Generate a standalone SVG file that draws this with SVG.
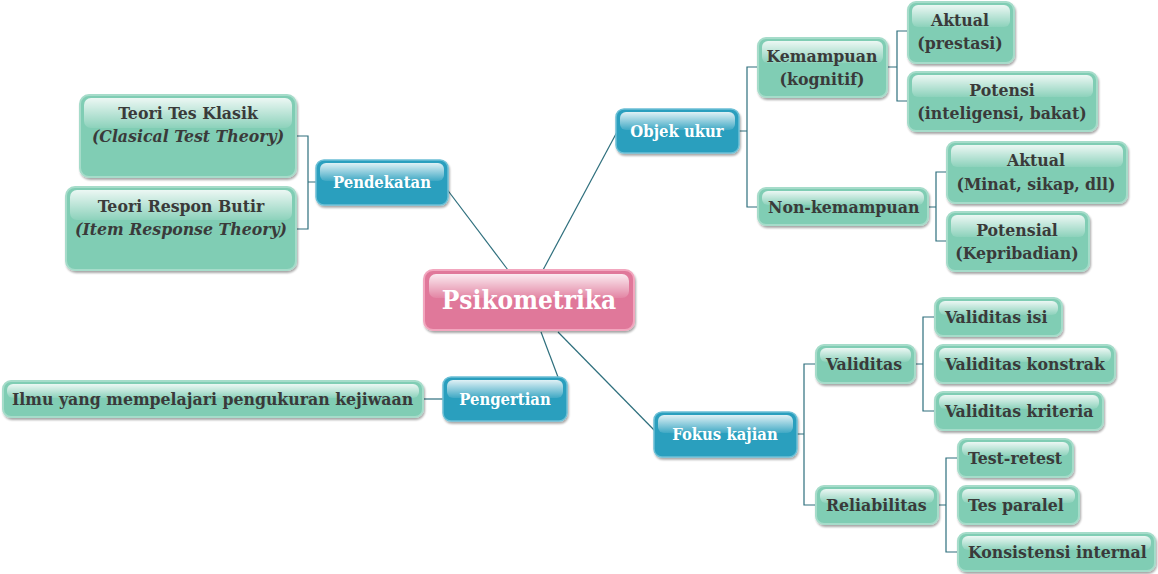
<svg xmlns="http://www.w3.org/2000/svg" width="1158" height="574" viewBox="0 0 1158 574">
<defs>
<linearGradient id="gloss" x1="0" y1="0" x2="0" y2="1">
<stop offset="0" stop-color="#ffffff" stop-opacity="0.85"/>
<stop offset="1" stop-color="#ffffff" stop-opacity="0.1"/>
</linearGradient>
<filter id="sh" x="-10%" y="-20%" width="120%" height="150%">
<feGaussianBlur in="SourceAlpha" stdDeviation="1.2"/>
<feOffset dx="1" dy="2" result="b"/>
<feComponentTransfer><feFuncA type="linear" slope="0.35"/></feComponentTransfer>
<feMerge><feMergeNode/><feMergeNode in="SourceGraphic"/></feMerge>
</filter>
</defs>
<style>
.g{fill:#80cdb4;stroke:#a6dcca;stroke-width:2;filter:url(#sh)}
.b{fill:#2b9fbe;stroke:#6cc0d6;stroke-width:1.5;filter:url(#sh)}
.p{fill:#e0789a;stroke:#f2a6be;stroke-width:2;filter:url(#sh)}
.gl{fill:url(#gloss)}
text{font-family:"DejaVu Serif Condensed","DejaVu Serif","Liberation Serif",serif;font-weight:bold;text-anchor:middle;dominant-baseline:central}
.tg{fill:#3a3a3a;font-size:17.5px}
.l{text-anchor:start}
.tb{fill:#ffffff;font-size:16.5px}
.tp{fill:#ffffff;font-size:26px}
.it{font-style:italic}
.c{fill:none;stroke:#2e6f7d;stroke-width:1.2}
</style>
<g id="connectors">
<line class="c" x1="508" y1="270" x2="446" y2="188"/>
<line class="c" x1="543" y1="270" x2="617" y2="132"/>
<line class="c" x1="541" y1="332" x2="558" y2="377"/>
<line class="c" x1="558" y1="332" x2="656" y2="432"/>
<path class="c" d="M316 182H308M296 136H308V229H296"/>
<path class="c" d="M423 399H443"/>
<path class="c" d="M739 131H747M758 67H747V207H758"/>
<path class="c" d="M887 67H897M908 31H897V101H908"/>
<path class="c" d="M928 207H936M947 172H936V241H947"/>
<path class="c" d="M797 434H804M816 364H804V505H816"/>
<path class="c" d="M915 364H923M935 317H923V411H935"/>
<path class="c" d="M938 505H946M958 458H946V552H958"/>
</g>
<g id="psikometrika">
<rect class="p" x="424" y="270" width="210" height="60" rx="9"/>
<rect class="gl" x="429" y="274" width="200" height="24" rx="7"/>
<text class="tp" x="529" y="300">Psikometrika</text>
</g>
<g id="objek-ukur">
<rect class="b" x="616" y="109" width="123" height="44" rx="8"/>
<rect class="gl" x="620" y="112" width="115" height="18" rx="6"/>
<text class="tb" x="677" y="131">Objek ukur</text>
</g>
<g id="pendekatan">
<rect class="b" x="316" y="160" width="132" height="45" rx="8"/>
<rect class="gl" x="320" y="163" width="124" height="18" rx="6"/>
<text class="tb" x="382" y="182">Pendekatan</text>
</g>
<g id="pengertian">
<rect class="b" x="443" y="377" width="124" height="44" rx="8"/>
<rect class="gl" x="447" y="380" width="116" height="18" rx="6"/>
<text class="tb" x="505" y="399">Pengertian</text>
</g>
<g id="fokus-kajian">
<rect class="b" x="654" y="412" width="143" height="45" rx="8"/>
<rect class="gl" x="658" y="415" width="135" height="18" rx="6"/>
<text class="tb" x="725" y="434">Fokus kajian</text>
</g>
<g id="kemampuan">
<rect class="g" x="758" y="38" width="129" height="59" rx="8"/>
<rect class="gl" x="762" y="41" width="121" height="22" rx="6"/>
<text class="tg" x="822" y="56">Kemampuan</text>
<text class="tg" x="822" y="79">(kognitif)</text>
</g>
<g id="aktual-prestasi">
<rect class="g" x="908" y="2" width="106" height="61" rx="8"/>
<rect class="gl" x="912" y="5" width="98" height="22" rx="6"/>
<text class="tg" x="960" y="20">Aktual</text>
<text class="tg" x="960" y="43">(prestasi)</text>
</g>
<g id="potensi">
<rect class="g" x="908" y="72" width="189" height="59" rx="8"/>
<rect class="gl" x="912" y="75" width="181" height="22" rx="6"/>
<text class="tg" x="1002" y="90">Potensi</text>
<text class="tg" x="1002" y="113">(inteligensi, bakat)</text>
</g>
<g id="non-kemampuan">
<rect class="g" x="758" y="188" width="170" height="37" rx="8"/>
<rect class="gl" x="762" y="191" width="162" height="14" rx="6"/>
<text class="tg l" x="768" y="207">Non-kemampuan</text>
</g>
<g id="aktual-minat">
<rect class="g" x="947" y="142" width="180" height="61" rx="8"/>
<rect class="gl" x="951" y="145" width="172" height="22" rx="6"/>
<text class="tg" x="1036" y="160">Aktual</text>
<text class="tg" x="1036" y="184">(Minat, sikap, dll)</text>
</g>
<g id="potensial">
<rect class="g" x="947" y="212" width="142" height="59" rx="8"/>
<rect class="gl" x="951" y="215" width="134" height="22" rx="6"/>
<text class="tg" x="1017" y="230">Potensial</text>
<text class="tg" x="1017" y="253">(Kepribadian)</text>
</g>
<g id="teori-tes-klasik">
<rect class="g" x="80" y="95" width="216" height="82" rx="9"/>
<rect class="gl" x="84" y="98" width="208" height="30" rx="7"/>
<text class="tg" x="188" y="113">Teori Tes Klasik</text>
<text class="tg it" x="188" y="136">(Clasical Test Theory)</text>
</g>
<g id="teori-respon-butir">
<rect class="g" x="66" y="187" width="230" height="83" rx="9"/>
<rect class="gl" x="70" y="190" width="222" height="30" rx="7"/>
<text class="tg" x="181" y="206">Teori Respon Butir</text>
<text class="tg it" x="181" y="229">(Item Response Theory)</text>
</g>
<g id="ilmu">
<rect class="g" x="3" y="381" width="420" height="36" rx="8"/>
<rect class="gl" x="7" y="384" width="412" height="14" rx="6"/>
<text class="tg l" x="12" y="399">Ilmu yang mempelajari pengukuran kejiwaan</text>
</g>
<g id="validitas">
<rect class="g" x="816" y="345" width="99" height="38" rx="8"/>
<rect class="gl" x="820" y="348" width="91" height="14" rx="6"/>
<text class="tg l" x="826" y="364">Validitas</text>
</g>
<g id="validitas-isi">
<rect class="g" x="935" y="298" width="127" height="38" rx="8"/>
<rect class="gl" x="939" y="301" width="119" height="14" rx="6"/>
<text class="tg l" x="945" y="317">Validitas isi</text>
</g>
<g id="validitas-konstrak">
<rect class="g" x="935" y="345" width="180" height="38" rx="8"/>
<rect class="gl" x="939" y="348" width="172" height="14" rx="6"/>
<text class="tg l" x="945" y="364">Validitas konstrak</text>
</g>
<g id="validitas-kriteria">
<rect class="g" x="935" y="392" width="168" height="38" rx="8"/>
<rect class="gl" x="939" y="395" width="160" height="14" rx="6"/>
<text class="tg l" x="945" y="411">Validitas kriteria</text>
</g>
<g id="reliabilitas">
<rect class="g" x="816" y="486" width="122" height="38" rx="8"/>
<rect class="gl" x="820" y="489" width="114" height="14" rx="6"/>
<text class="tg l" x="826" y="505">Reliabilitas</text>
</g>
<g id="test-retest">
<rect class="g" x="958" y="439" width="115" height="38" rx="8"/>
<rect class="gl" x="962" y="442" width="107" height="14" rx="6"/>
<text class="tg l" x="968" y="458">Test-retest</text>
</g>
<g id="tes-paralel">
<rect class="g" x="958" y="486" width="121" height="38" rx="8"/>
<rect class="gl" x="962" y="489" width="113" height="14" rx="6"/>
<text class="tg l" x="968" y="505">Tes paralel</text>
</g>
<g id="konsistensi-internal">
<rect class="g" x="958" y="533" width="197" height="38" rx="8"/>
<rect class="gl" x="962" y="536" width="189" height="14" rx="6"/>
<text class="tg l" x="968" y="552">Konsistensi internal</text>
</g>
</svg>
